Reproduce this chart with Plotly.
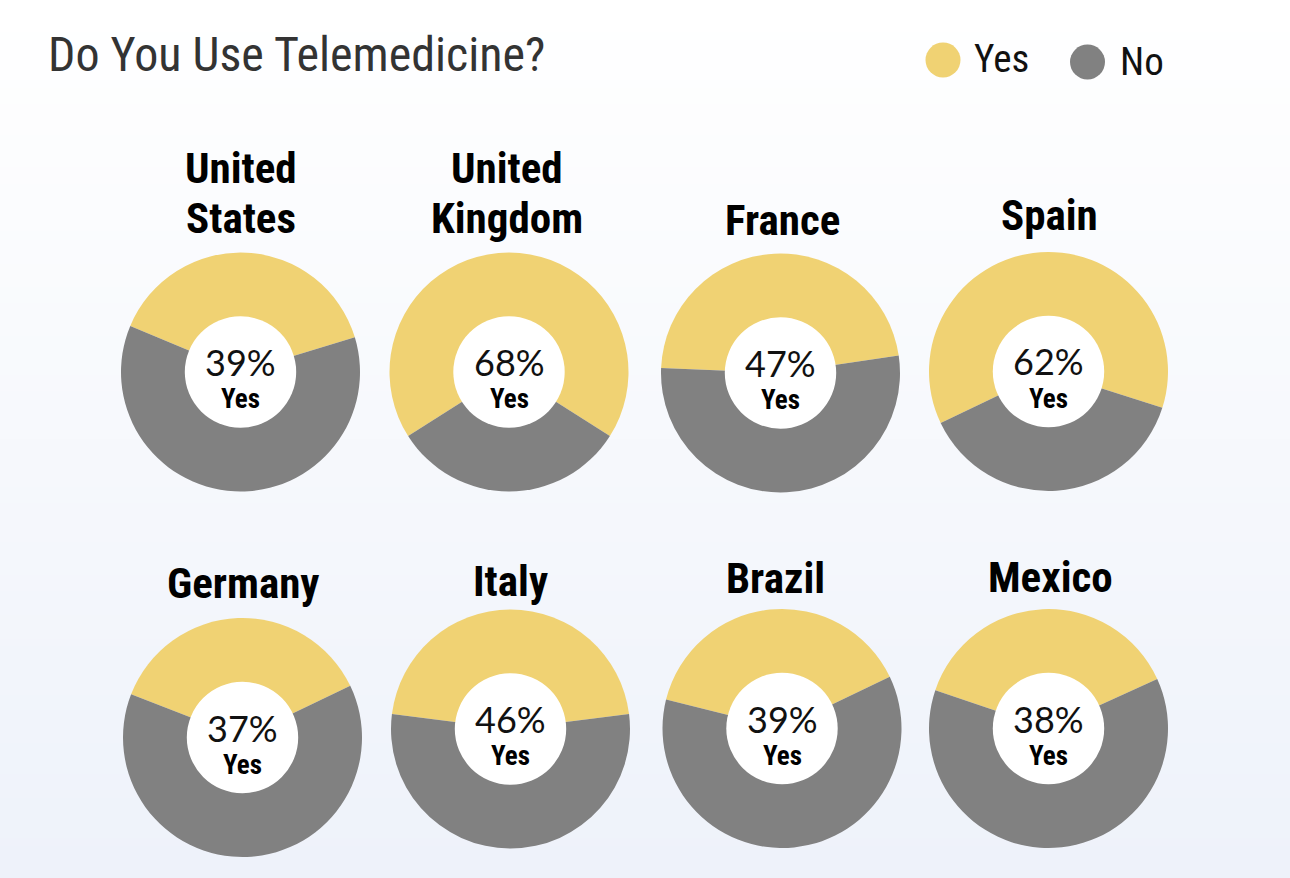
import plotly.graph_objects as go

# ---------------- data ----------------
COUNTRIES = ["United States", "United Kingdom", "France", "Spain",
             "Germany", "Italy", "Brazil", "Mexico"]
YES_PCT = [39, 68, 47, 62, 37, 46, 39, 38]
NO_PCT = [61, 32, 53, 38, 63, 54, 61, 62]
SERIES = ["Yes", "No"]
TITLE = "Do You Use Telemedicine?"

# ---------------- style / layout ----------------
W, H = 1290, 878
COLORS = {"Yes": "#F0D273", "No": "#818181"}
R_OUT = 119.5
R_HOLE = 55.7
# donut centres in pixels (x, y from top)
CENTERS = [(240.5, 372), (509, 372), (780.5, 373), (1048.5, 371.5),
           (242.5, 737.5), (510.5, 729), (782, 728.5), (1048.5, 728.5)]
# small tilt of the "Yes" wedge (degrees, clockwise from 12 o'clock)
TILT = [2.9, 0, -3.0, -3.9, -2.2, 0, -5.8, -2.9]
LABEL_X = [241, 507, 782, 1049, 243, 510, 775, 1050]
LABEL_BASE = [233, 233, 235, 230, 598, 596, 593, 592]

NARROW = "Roboto Condensed, Liberation Sans Narrow, Arial Narrow, sans-serif"
ROUND = "Lato, Open Sans, sans-serif"


def px(x):
    return x / W


def py(y):
    return 1 - y / H


fig = go.Figure()
shapes = []
annotations = []

# background gradient (white -> pale blue-grey)
top = (255, 255, 255)
bot = (238, 242, 250)
N = 110
for i in range(N):
    t = i / (N - 1)
    c = tuple(round(top[k] + (bot[k] - top[k]) * t) for k in range(3))
    y0 = i * H / N
    y1 = (i + 1) * H / N + 1
    shapes.append(dict(type="rect", xref="paper", yref="paper",
                       x0=0, x1=1, y0=py(min(y1, H)), y1=py(y0),
                       fillcolor="rgb(%d,%d,%d)" % c, line=dict(width=0),
                       layer="below"))

for i, name in enumerate(COUNTRIES):
    cx, cy = CENTERS[i]
    yes, no = YES_PCT[i], NO_PCT[i]
    fig.add_trace(go.Pie(
        labels=SERIES, values=[yes, no], sort=False, direction="clockwise",
        rotation=TILT[i] - yes * 360 / (yes + no) / 2,
        marker=dict(colors=[COLORS[s] for s in SERIES], line=dict(width=0)),
        textinfo="none", hoverinfo="label+percent", showlegend=False,
        domain=dict(x=[px(cx - R_OUT), px(cx + R_OUT)],
                    y=[py(cy + R_OUT), py(cy - R_OUT)]),
    ))
    # white centre
    shapes.append(dict(type="circle", xref="paper", yref="paper",
                       x0=px(cx - R_HOLE), x1=px(cx + R_HOLE),
                       y0=py(cy + R_HOLE), y1=py(cy - R_HOLE),
                       fillcolor="white", line=dict(width=0), layer="above"))
    annotations.append(dict(x=px(cx), y=py(cy - 10), xref="paper", yref="paper",
                            text="%d%%" % yes, showarrow=False,
                            xanchor="center", yanchor="middle",
                            font=dict(family=ROUND, size=36, color="#111111")))
    annotations.append(dict(x=px(cx), y=py(cy + 27), xref="paper", yref="paper",
                            text="<b>Yes</b>", showarrow=False,
                            xanchor="center", yanchor="middle",
                            font=dict(family=NARROW, size=27, color="#000000")))
    # country label (one annotation per line for tight leading)
    lines = name.split(" ")
    n = len(lines)
    for j, line in enumerate(lines):
        base = LABEL_BASE[i] - (n - 1 - j) * 50
        annotations.append(dict(x=px(LABEL_X[i]), y=py(base - 0.35 * 43),
                                xref="paper", yref="paper",
                                text="<b>%s</b>" % line, showarrow=False,
                                xanchor="center", yanchor="middle",
                                font=dict(family=NARROW, size=43, color="#000000")))

# title
annotations.append(dict(x=px(46), y=py(54), xref="paper", yref="paper",
                        text=TITLE, showarrow=False, xanchor="left", yanchor="middle",
                        font=dict(family=NARROW, size=48, color="#333333")))

# legend
LEG = [(943, 60, 974, 59), (1087.5, 62, 1120, 62)]
for s, (mx, my, tx, ty) in zip(SERIES, LEG):
    r = 17.5
    shapes.append(dict(type="circle", xref="paper", yref="paper",
                       x0=px(mx - r), x1=px(mx + r), y0=py(my + r), y1=py(my - r),
                       fillcolor=COLORS[s], line=dict(width=0), layer="above"))
    annotations.append(dict(x=px(tx - 2), y=py(ty), xref="paper", yref="paper",
                            text=s, showarrow=False, xanchor="left", yanchor="middle",
                            font=dict(family=NARROW, size=39, color="#111111")))

fig.update_layout(
    width=W, height=H, margin=dict(l=0, r=0, t=0, b=0),
    paper_bgcolor="white", plot_bgcolor="white",
    shapes=shapes, annotations=annotations, showlegend=False,
)

fig.write_html("out.html")
